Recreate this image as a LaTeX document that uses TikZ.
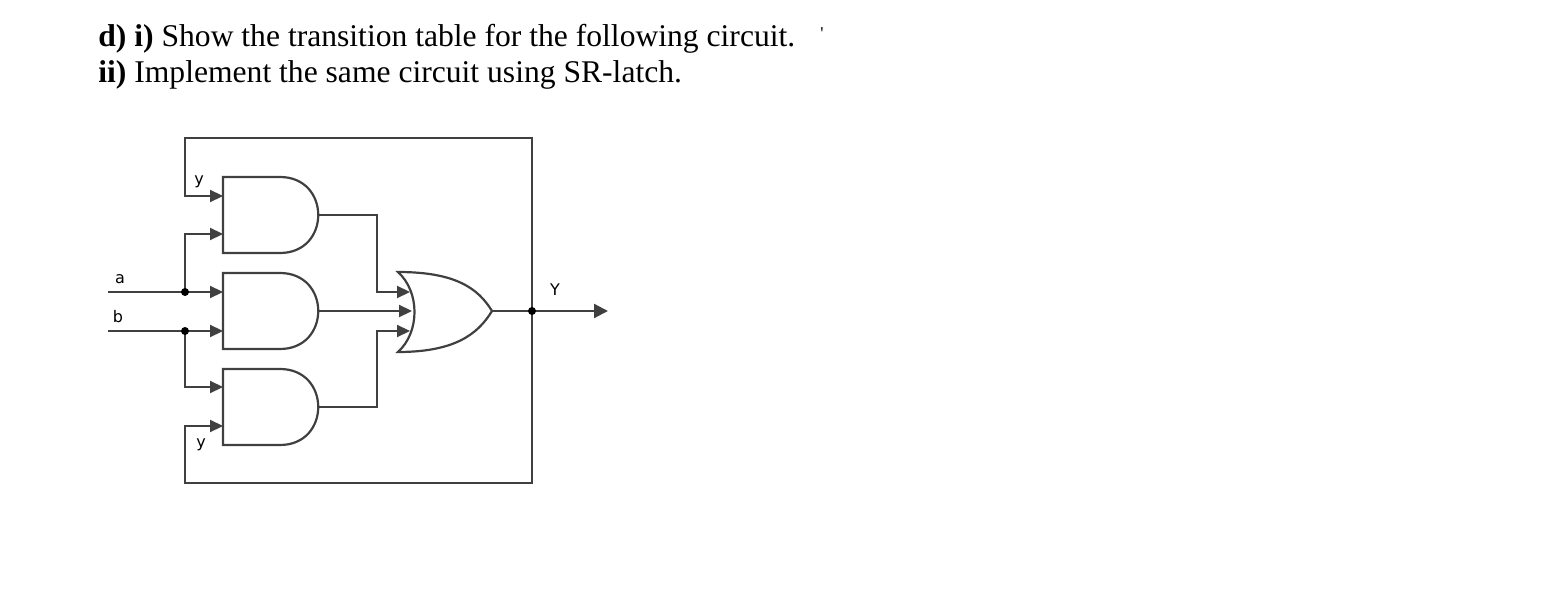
\documentclass[tikz,border=0pt]{standalone}
\usepackage{fontspec}
\setmainfont{Liberation Serif}
\newfontfamily\lblfont{DejaVu Sans}
\usetikzlibrary{arrows.meta}
\begin{document}
\begin{tikzpicture}[x=0.5pt,y=-0.5pt,
  wire/.style={line width=1.1pt,draw=black!75},
  inarrow/.style={wire,-{Triangle[length=6.5pt,width=6pt]}},
  gate/.style={line width=1.1pt,draw=black!75},
  dot/.style={circle,fill=black,inner sep=0pt,minimum size=4pt},
  lbl/.style={font=\lblfont\fontsize{8}{9}\selectfont,inner sep=0pt},
  title/.style={anchor=base west,inner sep=0pt,font=\fontsize{15.8}{18}\selectfont}]
\useasboundingbox (0,0) rectangle (1544,615);
\node[title] (t1) at (98,47) {\textbf{d) i)} Show the transition table for the following circuit.};
\node[title] (t2) at (98,83) {\textbf{ii)} Implement the same circuit using SR-latch.};
\node[title,font=\fontsize{9}{10}\selectfont] (tick) at (820,40) {\textquotesingle};
% coordinates
\coordinate (ja) at (185,292);
\coordinate (jb) at (185,331);
\coordinate (jy) at (532,311);
\coordinate (ain) at (108,292);
\coordinate (bin) at (108,331);
\coordinate (g1a) at (223,196); \coordinate (g1b) at (223,234);
\coordinate (g2a) at (223,292); \coordinate (g2b) at (223,331);
\coordinate (g3a) at (223,387); \coordinate (g3b) at (223,426);
\coordinate (g1o) at (318,215); \coordinate (g2o) at (318,311); \coordinate (g3o) at (318,407);
\coordinate (o1) at (410,292); \coordinate (o2) at (412,311); \coordinate (o3) at (410,331);
\coordinate (oo) at (492,311);
\coordinate (out) at (608,311);
% gates
\foreach \yt in {177,273,369}{
  \draw[gate] (223,\yt) -- (280,\yt) .. controls (331,\yt) and (331,\yt+76) .. (280,\yt+76) -- (223,\yt+76) -- cycle;
}
\draw[gate] (398,272) .. controls (420,292) and (420,332) .. (398,352)
  .. controls (455,352) and (478,334) .. (oo)
  .. controls (478,288) and (455,272) .. (398,272) -- cycle;
% wires
\draw[inarrow] (jy) -- (532,138) -- (185,138) -- (185,196) -- (g1a);
\draw[inarrow] (jy) -- (532,483) -- (185,483) -- (185,426) -- (g3b);
\draw[inarrow] (ain) -- (g2a);
\draw[inarrow] (bin) -- (g2b);
\draw[inarrow] (ja) -- (185,234) -- (g1b);
\draw[inarrow] (jb) -- (185,387) -- (g3a);
\draw[inarrow] (g1o) -- (377,215) -- (377,292) -- (o1);
\draw[inarrow] (g2o) -- (o2);
\draw[inarrow] (g3o) -- (377,407) -- (377,331) -- (o3);
\draw[wire,-{Triangle[length=7pt,width=7pt]}] (oo) -- (out);
\node[dot] (da) at (ja) {};
\node[dot] (db) at (jb) {};
\node[dot] (dy) at (jy) {};
% labels
\node[lbl] (la) at (120,279) {a};
\node[lbl] (lb) at (118,317) {b};
\node[lbl] (ly1) at (199,182) {y};
\node[lbl] (ly2) at (201,445) {y};
\node[lbl] (lY) at (555,290) {Y};
\end{tikzpicture}
\end{document}
